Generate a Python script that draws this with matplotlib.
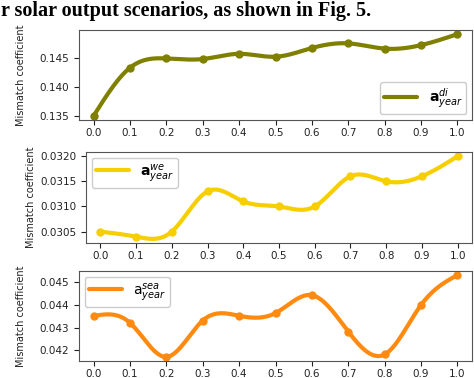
import numpy as np
import matplotlib
matplotlib.use("Agg")
import matplotlib.pyplot as plt

x_vals = [0.0, 0.1, 0.2, 0.3, 0.4, 0.5, 0.6, 0.7, 0.8, 0.9, 1.0]
a_di = [0.1350, 0.1433, 0.1449, 0.1448, 0.1457, 0.1452, 0.1467, 0.1475, 0.1466, 0.1472, 0.1491]
a_we = [0.03050, 0.03040, 0.03050, 0.03130, 0.03110, 0.03100, 0.03100, 0.03160, 0.03150, 0.03160, 0.03200]
a_sea = [0.04351, 0.04321, 0.04170, 0.04331, 0.04352, 0.04364, 0.04443, 0.04282, 0.04181, 0.04400, 0.04532]
labels = [r"$\mathbf{a}^{di}_{year}$", r"$\mathbf{a}^{we}_{year}$", r"$\mathrm{a}^{sea}_{year}$"]
colors = ["#808000", "#f7cf00", "#ff8a10"]
ylabel = "Mismatch coefficient"
caption = "r solar output scenarios, as shown in Fig. 5."


def spline(x, y, num=300):
    # natural cubic spline (rendering of the smooth line through the points)
    x = np.asarray(x, float)
    y = np.asarray(y, float)
    n = len(x)
    h = x[1] - x[0]
    A = np.zeros((n, n))
    b = np.zeros(n)
    A[0, 0] = 1
    A[-1, -1] = 1
    for i in range(1, n - 1):
        A[i, i - 1:i + 2] = [1, 4, 1]
        b[i] = 6.0 / h ** 2 * (y[i + 1] - 2 * y[i] + y[i - 1])
    M = np.linalg.solve(A, b)
    xs = np.linspace(x[0], x[-1], num)
    idx = np.clip(((xs - x[0]) / h).astype(int), 0, n - 2)
    xi, xi1 = x[idx], x[idx + 1]
    ys = (M[idx] * (xi1 - xs) ** 3 / (6 * h) + M[idx + 1] * (xs - xi) ** 3 / (6 * h)
          + (y[idx] / h - M[idx] * h / 6) * (xi1 - xs)
          + (y[idx + 1] / h - M[idx + 1] * h / 6) * (xs - xi))
    return xs, ys


W, H = 474, 378
fig = plt.figure(figsize=(W / 100, H / 100), dpi=100)
fig.patch.set_facecolor("white")

fig.text(0.002, 0.997, caption, fontsize=14.5, family="Liberation Serif",
         fontweight="bold", va="top", ha="left")

boxes = [(79, 30, 472, 120), (86, 152, 472, 243), (79, 271, 472, 361)]
series = [a_di, a_we, a_sea]
locs = ["lower right", "upper left", "upper left"]
yticks = [[0.135, 0.140, 0.145], [0.0305, 0.0310, 0.0315, 0.0320], [0.042, 0.043, 0.044, 0.045]]
yfmt = ["%.3f", "%.4f", "%.3f"]

for k in range(3):
    l, t, r, btm = boxes[k]
    ax = fig.add_axes([l / W, 1 - btm / H, (r - l) / W, (btm - t) / H])
    xs, ys = spline(x_vals, series[k])
    ax.plot(xs, ys, color=colors[k], lw=3, label=labels[k], solid_capstyle="round")
    ax.plot(x_vals, series[k], "o", color=colors[k], ms=5)
    ax.set_xticks(x_vals)
    ax.set_xticklabels(["%.1f" % v for v in x_vals])
    ax.set_yticks(yticks[k])
    ax.set_yticklabels([yfmt[k] % v for v in yticks[k]])
    ax.tick_params(labelsize=7.5, colors="#222222", length=3.5)
    ax.tick_params(axis="x", pad=2)
    for s in ax.spines.values():
        s.set_color("#555555")
    ax.set_ylabel(ylabel, fontsize=7, color="#222222")
    ax.yaxis.set_label_coords(-0.135 if k != 1 else -0.13, 0.5)
    ax.set_xlim(-0.04, 1.04)
    leg = ax.legend(loc=locs[k], fontsize=10, handlelength=2.4, framealpha=1,
                    borderpad=0.3, borderaxespad=0.4)
    leg.get_frame().set_edgecolor("#cccccc")

fig.savefig("out.png", dpi=100)
